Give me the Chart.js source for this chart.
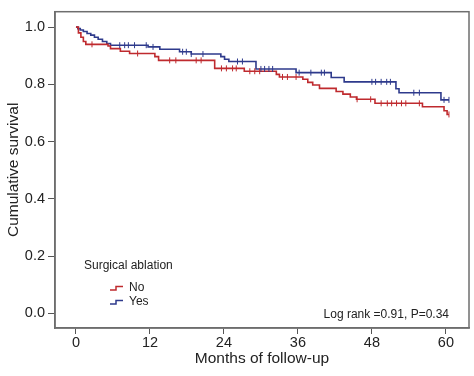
<!DOCTYPE html>
<html><head><meta charset="utf-8">
<script src="https://cdn.jsdelivr.net/npm/chart.js@4/dist/chart.umd.min.js"></script>
<style>html,body{margin:0;padding:0;background:#fff}#wrap{width:474px;height:376px;position:relative}</style>
</head><body><div id="wrap"><canvas id="c"></canvas></div>
<script>
// ---- data ----
const xTicks = [0, 12, 24, 36, 48, 60];
const yTicks = [0.0, 0.2, 0.4, 0.6, 0.8, 1.0];
const seriesNames = ['No', 'Yes'];
const legendTitle = 'Surgical ablation';
const statText = 'Log rank =0.91, P=0.34';
const xTitle = 'Months of follow-up';
const yTitle = 'Cumulative survival';

const noTimes = [0, 0.4, 0.8, 1.2, 1.6, 5.2, 5.6, 7.2, 8.7, 12.8, 13.4, 22.5, 27.3, 32.5, 33.0, 36.8, 37.6, 38.4, 39.5, 42.2, 43.3, 44.5, 45.5, 48.5, 56.2, 59.7, 60.2, 60.5];
const noSurv  = [1.0, 0.98, 0.965, 0.95, 0.94, 0.934, 0.925, 0.916, 0.908, 0.897, 0.884, 0.856, 0.846, 0.835, 0.826, 0.818, 0.807, 0.798, 0.786, 0.775, 0.766, 0.756, 0.748, 0.734, 0.722, 0.708, 0.695, 0.695];
const noCensor = [2.6, 10.0, 15.2, 16.2, 19.5, 20.3, 23.6, 24.4, 25.4, 26.0, 28.2, 29.0, 29.8, 33.5, 34.3, 35.7, 45.6, 47.8, 49.5, 50.5, 51.2, 52.0, 52.8, 53.5, 55.7, 60.5];

const yesTimes = [0, 0.3, 0.7, 1.2, 1.8, 2.4, 3.0, 3.6, 4.3, 5.0, 5.6, 11.7, 13.6, 16.8, 18.7, 23.5, 24.1, 24.8, 29.2, 35.7, 41.4, 43.5, 51.9, 52.4, 59.2, 60.5];
const yesSurv  = [1.0, 0.995, 0.99, 0.985, 0.978, 0.972, 0.965, 0.958, 0.95, 0.943, 0.937, 0.931, 0.923, 0.914, 0.906, 0.897, 0.888, 0.880, 0.854, 0.841, 0.824, 0.809, 0.785, 0.771, 0.746, 0.746];
const yesCensor = [7.1, 7.9, 8.5, 9.5, 11.4, 12.5, 17.3, 17.9, 18.7, 20.6, 26.2, 27.0, 30.0, 30.6, 31.3, 31.9, 36.2, 38.1, 39.8, 40.3, 48.0, 48.6, 49.5, 50.4, 51.0, 54.8, 55.7, 59.7, 60.5];

// ---- styling ----
const RED = '#bf2a2e';
const BLUE = '#2e3a8c';
const FRAME = '#6e6e6e';
const TXT = '#222';
const FONT = "'Liberation Sans', Arial, Helvetica, sans-serif";

function toPts(ts, ss) { return ts.map((t, i) => ({x: t, y: ss[i]})); }
function survAt(ts, ss, t) { let v = ss[0]; for (let i = 0; i < ts.length; i++) { if (ts[i] <= t) v = ss[i]; } return v; }
function censorPts(cs, ts, ss) { return cs.map(t => ({x: t, y: survAt(ts, ss, t)})); }

const overlay = {
  id: 'overlay',
  afterDraw(chart) {
    const ctx = chart.ctx, a = chart.chartArea;
    ctx.save();
    // frame
    ctx.strokeStyle = FRAME; ctx.lineWidth = 1.5;
    ctx.strokeRect(a.left, a.top, a.right - a.left, a.bottom - a.top);
    // legend
    ctx.fillStyle = TXT;
    ctx.font = '12px ' + FONT;
    ctx.textBaseline = 'middle'; ctx.textAlign = 'left';
    ctx.fillText(legendTitle, 84, 266);
    const items = [{c: RED, y: 288}, {c: BLUE, y: 302}];
    items.forEach((it, i) => {
      ctx.strokeStyle = it.c; ctx.lineWidth = 1.5;
      ctx.beginPath();
      ctx.moveTo(110, it.y + 2); ctx.lineTo(116, it.y + 2); ctx.lineTo(116, it.y - 1.5); ctx.lineTo(123, it.y - 1.5);
      ctx.stroke();
      ctx.fillStyle = TXT;
      ctx.fillText(seriesNames[i], 129, it.y);
    });
    // stat text
    ctx.textAlign = 'right';
    ctx.fillText(statText, 449, 315);
    ctx.restore();
  }
};

const lineDs = (label, ts, ss, color) => ({
  label, data: toPts(ts, ss), borderColor: color, backgroundColor: color,
  borderWidth: 1.6, stepped: 'before', pointRadius: 0, fill: false, order: 1
});
const censorDs = (label, cs, ts, ss, color) => ({
  label, type: 'scatter', data: censorPts(cs, ts, ss), borderColor: color, backgroundColor: color,
  pointStyle: 'line', rotation: 90, pointRadius: 3, borderWidth: 1, showLine: false, order: 0
});

new Chart(document.getElementById('c'), {
  type: 'line',
  data: {
    datasets: [
      lineDs(seriesNames[0], noTimes, noSurv, RED),
      lineDs(seriesNames[1], yesTimes, yesSurv, BLUE),
      censorDs(seriesNames[0] + ' censored', noCensor, noTimes, noSurv, RED),
      censorDs(seriesNames[1] + ' censored', yesCensor, yesTimes, yesSurv, BLUE)
    ]
  },
  options: {
    responsive: true, maintainAspectRatio: false, animation: false,
    layout: {padding: {top: 2, right: 4, left: 0, bottom: 0}},
    plugins: {legend: {display: false}, tooltip: {enabled: false}},
    scales: {
      x: {
        type: 'linear', min: -3.4, max: 63.75,
        afterBuildTicks: s => { s.ticks = xTicks.map(v => ({value: v})); },
        afterFit: s => { s.height = 48; },
        ticks: {color: TXT, font: {family: FONT, size: 14.5}, padding: 0, autoSkip: false, maxRotation: 0},
        grid: {display: true, drawOnChartArea: false, drawTicks: true, tickLength: 6, color: '#555', tickWidth: 1},
        border: {display: true, color: FRAME, width: 1.5},
        title: {display: true, text: xTitle, color: TXT, font: {family: FONT, size: 15.5}, padding: {top: 0, bottom: 7.5}}
      },
      y: {
        type: 'linear', min: -0.051, max: 1.054,
        afterBuildTicks: s => { s.ticks = yTicks.map(v => ({value: v})); },
        afterFit: s => { s.width = 55; },
        ticks: {color: TXT, font: {family: FONT, size: 14.5}, padding: 3, callback: v => v.toFixed(1)},
        grid: {display: true, drawOnChartArea: false, drawTicks: true, tickLength: 7, color: '#555', tickWidth: 1},
        border: {display: true, color: FRAME, width: 1.5},
        title: {display: true, text: yTitle, color: TXT, font: {family: FONT, size: 15.5}, padding: {top: 4.5, bottom: 0}}
      }
    }
  },
  plugins: [overlay]
});
</script>
</body></html>
